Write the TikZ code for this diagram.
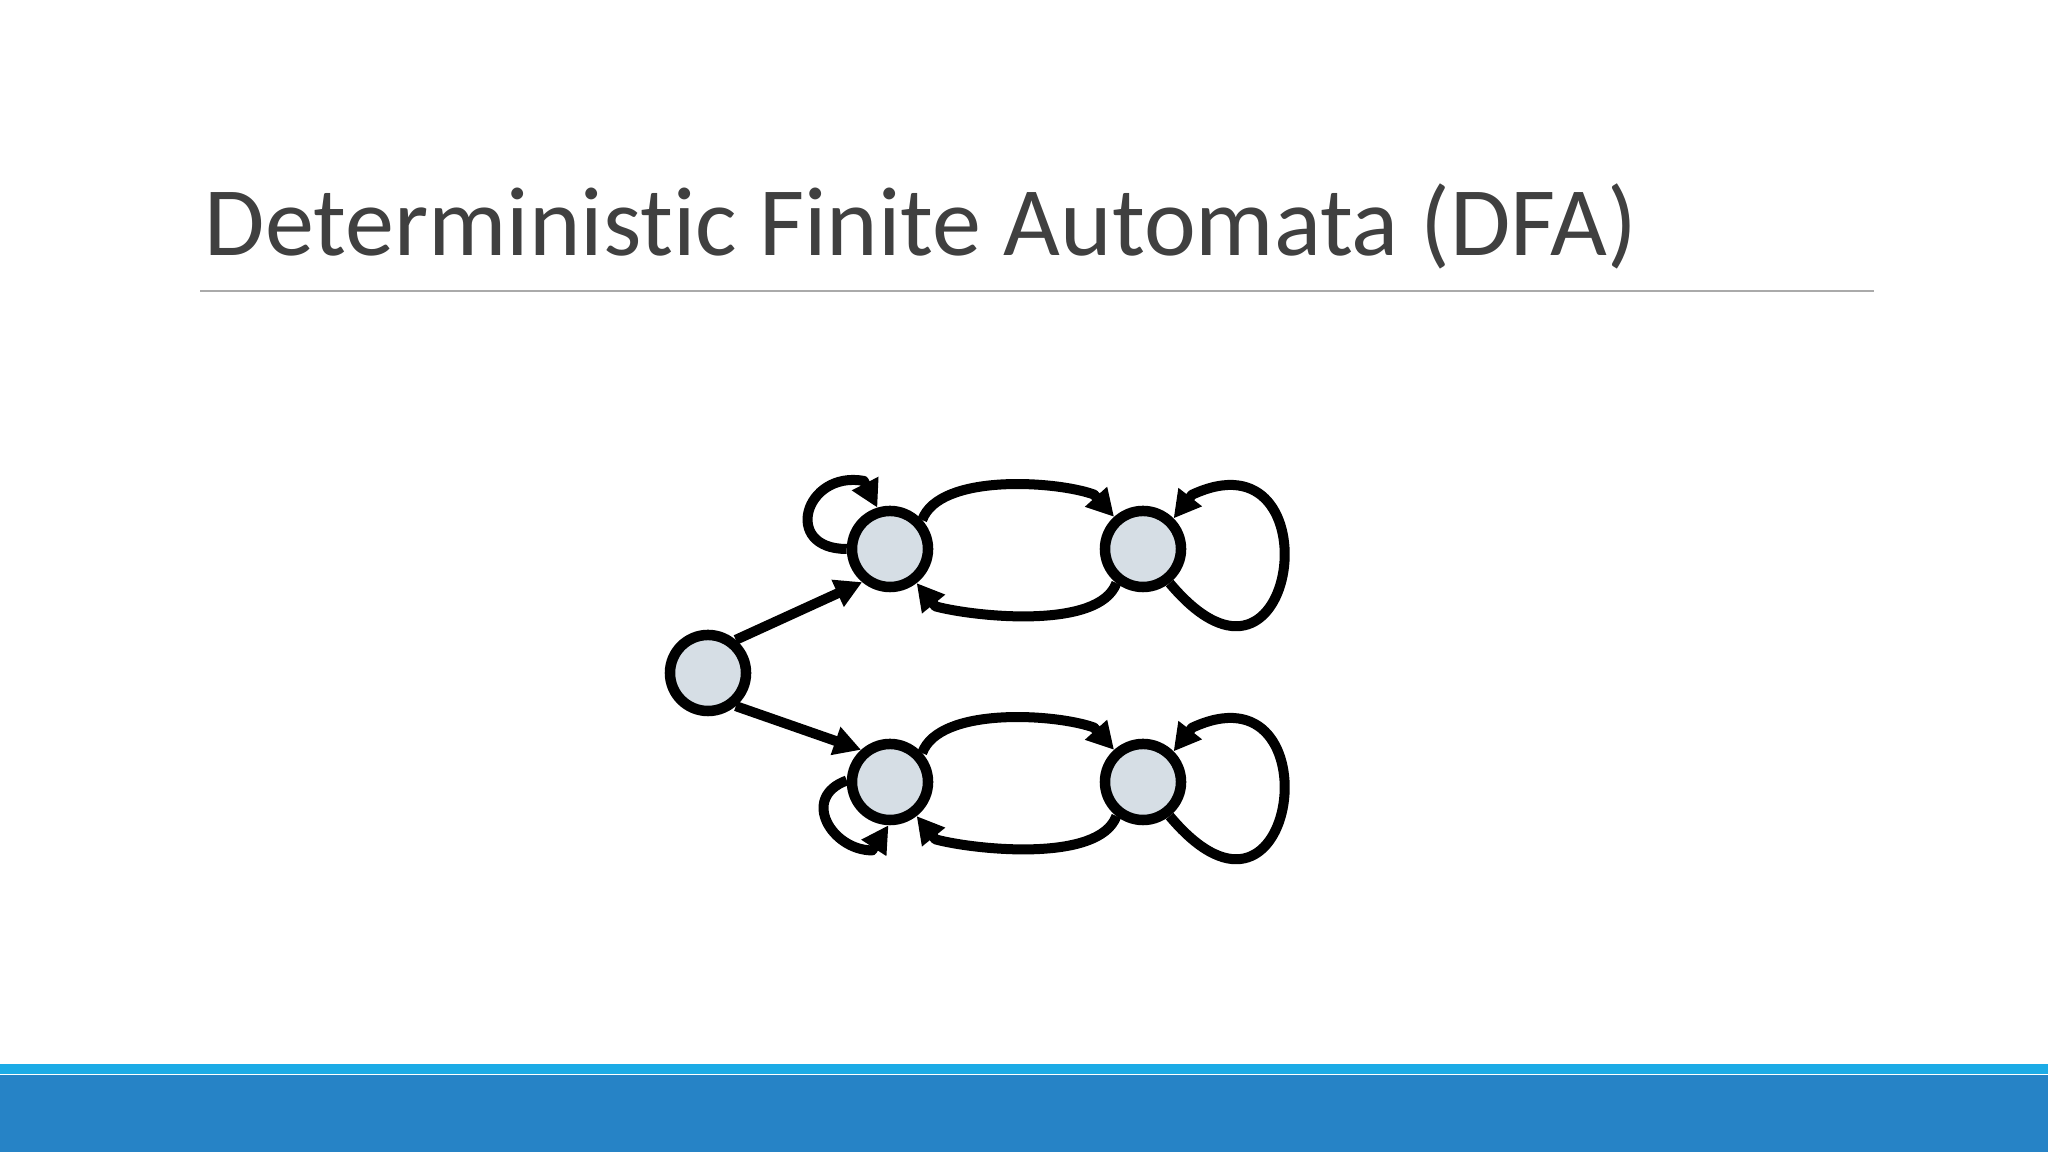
\documentclass[tikz,border=0pt]{standalone}
\usepackage{fontspec}
\setmainfont{Carlito}[Ligatures={NoCommon}]
\usetikzlibrary{arrows.meta, positioning, calc}
\definecolor{statefill}{RGB}{214,222,229}
\definecolor{titlegray}{RGB}{64,64,64}
\definecolor{rulegray}{RGB}{170,170,170}
\definecolor{bandlight}{RGB}{28,171,230}
\definecolor{banddark}{RGB}{38,131,198}

\begin{document}
\begin{tikzpicture}[x=0.01cm, y=0.01cm,
    state/.style={circle, draw=black, fill=statefill, line width=0.105cm, minimum size=0.76cm, inner sep=0pt},
    trans/.style={line width=0.1cm, line join=round, -{Triangle[length=0.27cm, width=0.28cm]}}]
        % 页面边界
        \useasboundingbox (0,0) rectangle (2048,1152);

        % 标题与分隔线
        \node[anchor=base west, inner sep=0pt, text=titlegray, font=\fontsize{27.9pt}{34pt}\selectfont] (title) at (204,896) {Deterministic Finite Automata (DFA)};
        \draw[rulegray, line width=0.02cm] (200,861) -- (1874,861);

        % 底部色带
        \fill[bandlight] (0,78) rectangle (2048,88);
        \fill[banddark] (0,0) rectangle (2048,76.5);

        % 状态
        \node[state] (q0) at (708,479) {};
        \node[state] (q1) at (890,603) {};
        \node[state] (q2) at (1143,603) {};
        \node[state] (q3) at (890,370) {};
        \node[state] (q4) at (1143,370) {};

        % 起始状态的两条转移
        \draw[trans] (q0.50) -- (q1.230);
        \draw[trans] (q0.-50) -- (q3.132);

        % 左侧自环(箭头前接一小段直线)
        \draw[trans] (q1.180) .. controls +(180:65) and +(170:60) .. ($(q1.107)+(117:30)$) -- (q1.107);
        \draw[trans] (q3.178) .. controls +(200:50) and +(180:40) .. ($(q3.268)+(237:30)$) -- (q3.268);

        % 每行的往返弧与右侧自环
        \foreach \a/\b in {q1/q2, q3/q4} {
            \draw[trans] (\a.42) .. controls +(70:50) and +(160:40) .. ($(\b.132)+(132:30)$) -- (\b.132);
            \draw[trans] (\b.232) .. controls +(250:50) and +(345:40) .. ($(\a.308)+(309:30)$) -- (\a.308);
            \draw[trans] (\b.-52) .. controls +(-50:200) and +(25:160) .. ($(\b.45)+(52:30)$) -- (\b.45);
        }
    \end{tikzpicture}
\end{document}
